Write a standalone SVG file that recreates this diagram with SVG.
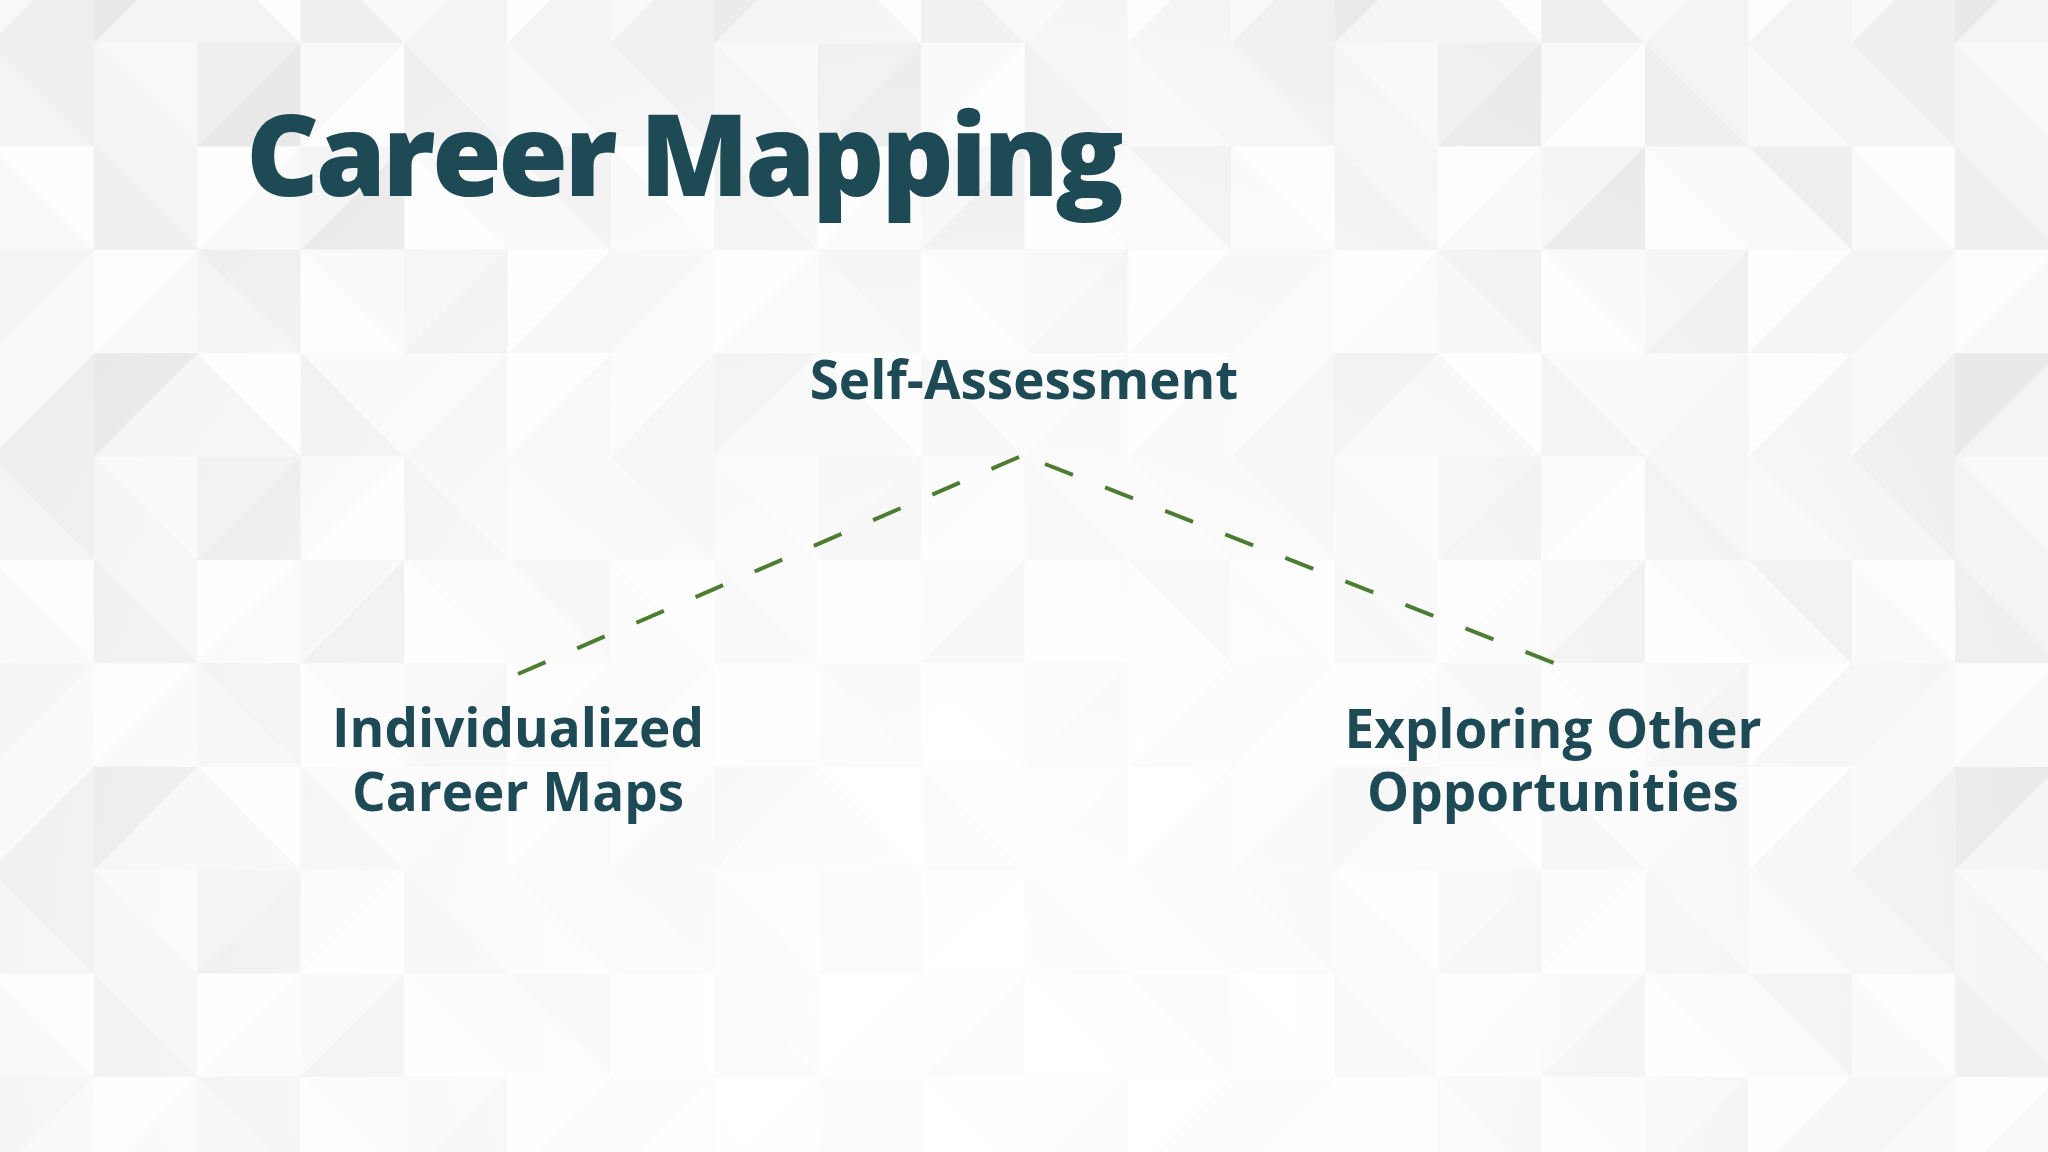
<svg xmlns="http://www.w3.org/2000/svg" width="2048" height="1152" viewBox="0 0 2048 1152">
<style>
.t{font-family:"Open Sans","Noto Sans","Liberation Sans",sans-serif;fill:#1d4a55}
.title{font-size:113px;font-weight:800;letter-spacing:-3.6px}
.lbl{font-size:53px;font-weight:700;text-anchor:middle}
.a{fill:#f3f3f3}.b{fill:#ededed}.c{fill:#f8f8f8}.d{fill:#e7e7e7}.e{fill:#fdfdfd}
.dash{fill:none;stroke:#4d7d32;stroke-width:4;stroke-dasharray:30 34.5}
</style>
<defs>
<polygon id="TL" points="0,0 10,0 0,10"/>
<polygon id="TR" points="0,0 10,0 10,10"/>
<polygon id="BL" points="0,0 0,10 10,10"/>
<polygon id="BR" points="10,0 10,10 0,10"/>
<pattern id="tiles" patternUnits="userSpaceOnUse" width="60" height="40" patternTransform="translate(-9.4,-60.4) scale(10.34)">
<rect width="60" height="40" class="a"/>
<rect x="0" y="0" width="10" height="10" class="c"/><use href="#BR" x="0" y="0" class="b"/>
<rect x="10" y="0" width="10" height="10" class="a"/><use href="#TL" x="10" y="0" class="d"/>
<rect x="20" y="0" width="10" height="10" class="e"/><use href="#BL" x="20" y="0" class="a"/>
<rect x="30" y="0" width="10" height="10" class="b"/><use href="#TR" x="30" y="0" class="c"/>
<rect x="40" y="0" width="10" height="10" class="c"/><use href="#BR" x="40" y="0" class="a"/>
<rect x="50" y="0" width="10" height="10" class="a"/><use href="#TL" x="50" y="0" class="e"/>
<rect x="0" y="10" width="10" height="10" class="a"/><use href="#TR" x="0" y="10" class="b"/>
<rect x="10" y="10" width="10" height="10" class="c"/><use href="#BL" x="10" y="10" class="a"/>
<rect x="20" y="10" width="10" height="10" class="b"/><use href="#BR" x="20" y="10" class="d"/>
<rect x="30" y="10" width="10" height="10" class="e"/><use href="#TL" x="30" y="10" class="c"/>
<rect x="40" y="10" width="10" height="10" class="a"/><use href="#BL" x="40" y="10" class="b"/>
<rect x="50" y="10" width="10" height="10" class="c"/><use href="#TR" x="50" y="10" class="a"/>
<rect x="0" y="20" width="10" height="10" class="e"/><use href="#BL" x="0" y="20" class="c"/>
<rect x="10" y="20" width="10" height="10" class="b"/><use href="#TR" x="10" y="20" class="a"/>
<rect x="20" y="20" width="10" height="10" class="c"/><use href="#TL" x="20" y="20" class="e"/>
<rect x="30" y="20" width="10" height="10" class="a"/><use href="#BR" x="30" y="20" class="d"/>
<rect x="40" y="20" width="10" height="10" class="e"/><use href="#TR" x="40" y="20" class="c"/>
<rect x="50" y="20" width="10" height="10" class="b"/><use href="#BL" x="50" y="20" class="c"/>
<rect x="0" y="30" width="10" height="10" class="c"/><use href="#TL" x="0" y="30" class="a"/>
<rect x="10" y="30" width="10" height="10" class="e"/><use href="#BR" x="10" y="30" class="c"/>
<rect x="20" y="30" width="10" height="10" class="a"/><use href="#TR" x="20" y="30" class="b"/>
<rect x="30" y="30" width="10" height="10" class="c"/><use href="#BL" x="30" y="30" class="e"/>
<rect x="40" y="30" width="10" height="10" class="b"/><use href="#TL" x="40" y="30" class="a"/>
<rect x="50" y="30" width="10" height="10" class="e"/><use href="#BR" x="50" y="30" class="a"/>
</pattern>
<radialGradient id="fade" gradientUnits="userSpaceOnUse" cx="1000" cy="1000" r="1100">
<stop offset="0" stop-color="#ffffff" stop-opacity="0.9"/>
<stop offset="0.55" stop-color="#ffffff" stop-opacity="0.6"/>
<stop offset="1" stop-color="#ffffff" stop-opacity="0.1"/>
</radialGradient>
</defs>
<g id="background">
<rect width="2048" height="1152" fill="url(#tiles)"/>
<rect width="2048" height="1152" fill="url(#fade)"/>
</g>
<g id="title"><text class="t title" x="246" y="196">Career Mapping</text></g>
<g id="connectors">
<line class="dash" x1="1019" y1="457" x2="518" y2="674"/>
<line class="dash" x1="1045" y1="464" x2="1554" y2="663"/>
</g>
<g id="node-self-assessment"><text class="t lbl" x="1024" y="399">Self-Assessment</text></g>
<g id="node-individualized"><text class="t lbl" x="518" y="747">Individualized</text><text class="t lbl" x="518" y="811">Career Maps</text></g>
<g id="node-exploring"><text class="t lbl" x="1553" y="748">Exploring Other</text><text class="t lbl" x="1553" y="811">Opportunities</text></g>
</svg>
